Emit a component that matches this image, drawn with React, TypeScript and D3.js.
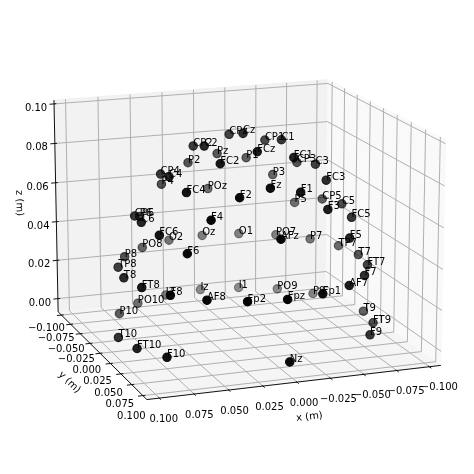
import React from "react";
import * as d3 from "d3";

const names = ["Nz","Fpz","AFz","Fz","FCz","Cz","CPz","Pz","POz","Oz","Iz",
"Fp1","Fp2","AF7","AF8","F7","F8","FT7","FT8","T7","T8","TP7","TP8","P7","P8","PO7","PO8","O1","O2",
"F9","F10","FT9","FT10","T9","T10","P9","P10","PO9","PO10","I1","I2",
"F1","F2","F3","F4","F5","F6","FC1","FC2","FC3","FC4","FC5","FC6",
"C1","C2","C3","C4","C5","C6","CP1","CP2","CP3","CP4","CP5","CP6",
"P1","P2","P3","P4","P5","P6"];
const xs = [0,0,0,0,0,0,0,0,0,0,0,
-.02792,.02792,-.05311,.05311,-.0731,.0731,-.08593,.08593,-.09035,.09035,-.08593,.08593,-.0731,.0731,-.05311,.05311,-.02792,.02792,
-.07686,.07686,-.09035,.09035,-.095,.095,-.07686,.07686,-.05584,.05584,-.02936,.02936,
-.02274,.02274,-.04361,.04361,-.06086,.06086,-.02765,.02765,-.05269,.05269,-.07278,.07278,
-.02936,.02936,-.05584,.05584,-.07686,.07686,-.02765,.02765,-.05269,.05269,-.07278,.07278,
-.02274,.02274,-.04361,.04361,-.06086,.06086];
const ys = [.095,.09035,.07686,.05584,.02936,0,-.02936,-.05584,-.07686,-.09035,-.095,
.08593,.08593,.0731,.0731,.05311,.05311,.02792,.02792,0,0,-.02792,-.02792,-.05311,-.05311,-.0731,-.0731,-.08593,-.08593,
.05584,.05584,.02936,.02936,0,0,-.05584,-.05584,-.07686,-.07686,-.09035,-.09035,
.05565,.05565,.0551,.0551,.05423,.05423,.02926,.02926,.02897,.02897,.0285,.0285,
0,0,0,0,0,0,-.02926,-.02926,-.02897,-.02897,-.0285,-.0285,
-.05565,-.05565,-.0551,-.0551,-.05423,-.05423];
const zs = [0,.02936,.05584,.07686,.09035,.095,.09035,.07686,.05584,.02936,0,
.02936,.02936,.02936,.02936,.02936,.02936,.02936,.02936,.02936,.02936,.02936,.02936,.02936,.02936,.02936,.02936,.02936,.02936,
0,0,0,0,0,0,0,0,0,0,0,0,
.07356,.07356,.06394,.06394,.0488,.0488,.08605,.08605,.07356,.07356,.05401,.05401,
.09035,.09035,.07686,.07686,.05584,.05584,.08605,.08605,.07356,.07356,.05401,.05401,
.07356,.07356,.06394,.06394,.0488,.0488];
const xTicks = [0.1,0.075,0.05,0.025,0,-0.025,-0.05,-0.075,-0.1];
const yTicks = [-0.1,-0.075,-0.05,-0.025,0,0.025,0.05,0.075,0.1];
const zTicks = [0,0.02,0.04,0.06,0.08,0.1];

const FONT = "'DejaVu Sans', sans-serif";
const elev = 15 * Math.PI / 180, azim = 70 * Math.PI / 180, dist = 10;
const H = 0.10885, ZLO = -0.00693, ZHI = 0.10193;
const boxX = d3.scaleLinear().domain([-0.1045, 0.1045]).range([-0.5715, 0.5715]);
const boxY = boxX;
const boxZ = d3.scaleLinear().domain([-0.00475, 0.09975]).range([-0.4285, 0.4285]);
const screenX = d3.scaleLinear().domain([0, 0.1]).range([243, 243 + 253.4]);
const screenY = d3.scaleLinear().domain([0, 0.1]).range([229.7, 229.7 - 253.4]);

type P = [number, number, number];
function project([x, y, z]: P) {
  const qx = boxX(x), qy = boxY(y), qz = boxZ(z);
  const se = Math.sin(elev), ce = Math.cos(elev), sa = Math.sin(azim), ca = Math.cos(azim);
  const xv = -sa * qx + ca * qy;
  const yv = -se * ca * qx - se * sa * qy + ce * qz;
  const zv = ce * ca * qx + ce * sa * qy + se * qz;
  const w = dist - zv;
  return { sx: screenX(xv / w), sy: screenY(yv / w), depth: zv };
}
const line = d3.line<P>().x(p => project(p).sx).y(p => project(p).sy);

const paneBack: P[] = [[H,-H,ZLO],[-H,-H,ZLO],[-H,-H,ZHI],[H,-H,ZHI]];
const paneRight: P[] = [[-H,-H,ZLO],[-H,H,ZLO],[-H,H,ZHI],[-H,-H,ZHI]];
const paneFloor: P[] = [[H,-H,ZLO],[-H,-H,ZLO],[-H,H,ZLO],[H,H,ZLO]];

const points = names.map((n, i) => ({ n, ...project([xs[i], ys[i], zs[i]]) }));
const alpha = d3.scaleLinear()
  .domain(d3.extent(points, d => d.depth) as [number, number])
  .range([0.42, 1]);
const ordered = d3.sort(points, d => d.depth);

const GRID = "#b0b0b0", tickLen = 0.209 / 12;
const xDx = d3.scaleLinear().domain([0.1, -0.1]).range([4.5, 10]);
const yDx = d3.scaleLinear().domain([-0.1, 0.1]).range([-15, -11.5]);
const yDy = d3.scaleLinear().domain([-0.1, 0.1]).range([12.5, 20]);
const fmt3 = (v: number) => d3.format(".3f")(v).replace("-", "\u2212");
const fmt2 = d3.format(".2f");

export default function App() {
  const gridStyle = { fill: "none", stroke: GRID, strokeWidth: 1 };
  const tickStyle = { stroke: "#111", strokeWidth: 1 };
  return (
    <svg width={474} height={474} viewBox="0 0 474 474"
      style={{ position: "absolute", left: 0, top: 0, background: "#fff", filter: "blur(0.45px)" }}
      fontFamily={FONT} fontSize={10} fill="#000">
      <path d={line(paneBack)! + "Z"} fill="#f2f2f2" stroke="#f2f2f2" />
      <path d={line(paneRight)! + "Z"} fill="#f9f9f9" stroke="#f9f9f9" />
      <path d={line(paneFloor)! + "Z"} fill="#f5f5f5" stroke="#f5f5f5" />
      {xTicks.map(t => <path key={"gx" + t} {...gridStyle} d={line([[t,H,ZLO],[t,-H,ZLO],[t,-H,ZHI]])!} />)}
      {yTicks.map(t => <path key={"gy" + t} {...gridStyle} d={line([[H,t,ZLO],[-H,t,ZLO],[-H,t,ZHI]])!} />)}
      {zTicks.map(t => <path key={"gz" + t} {...gridStyle} d={line([[H,-H,t],[-H,-H,t],[-H,H,t]])!} />)}

      <path d={line([[H,H,ZLO],[-H,H,ZLO]])!} {...tickStyle} />
      <path d={line([[H,-H,ZLO],[H,H,ZLO]])!} {...tickStyle} />
      <path d={line([[H,-H,ZLO],[H,-H,ZHI]])!} {...tickStyle} />
      {xTicks.map(t => <path key={"tx" + t} {...tickStyle} d={line([[t,H + 0.2 * tickLen,ZLO],[t,H - 0.1 * tickLen,ZLO]])!} />)}
      {yTicks.map(t => <path key={"ty" + t} {...tickStyle} d={line([[H + 0.2 * tickLen,t,ZLO],[H - 0.1 * tickLen,t,ZLO]])!} />)}
      {zTicks.map(t => <path key={"tz" + t} {...tickStyle} d={line([[H + 0.2 * tickLen,-H,t],[H - 0.1 * tickLen,-H,t]])!} />)}

      {xTicks.map(t => { const p = project([t,H,ZLO]);
        return <text key={"lx" + t} x={p.sx + xDx(t)} y={p.sy + 20} textAnchor="middle" dominantBaseline="central">{fmt3(t)}</text>; })}
      {yTicks.map(t => { const p = project([H,t,ZLO]);
        return <text key={"ly" + t} x={p.sx + yDx(t)} y={p.sy + yDy(t)} textAnchor="middle" dominantBaseline="central">{fmt3(t)}</text>; })}
      {zTicks.map(t => { const p = project([H,-H,t]);
        return <text key={"lz" + t} x={p.sx - 18} y={p.sy + 3.5} textAnchor="middle" dominantBaseline="central">{fmt2(t)}</text>; })}

      <text transform="translate(309.3,416) rotate(-6.4)" textAnchor="middle" dominantBaseline="central">x (m)</text>
      <text transform="translate(70,381.7) rotate(44)" textAnchor="middle" dominantBaseline="central">y (m)</text>
      <text transform="translate(20,203) rotate(89)" textAnchor="middle" dominantBaseline="central">z (m)</text>

      {ordered.map(d => (
        <circle key={d.n} cx={d.sx} cy={d.sy} r={4.2} fill="#000" stroke="#000" strokeWidth={1.1}
          fillOpacity={alpha(d.depth)} strokeOpacity={alpha(d.depth)} />
      ))}
      {points.map(d => <text key={"t" + d.n} x={d.sx} y={d.sy}>{d.n}</text>)}
    </svg>
  );
}
